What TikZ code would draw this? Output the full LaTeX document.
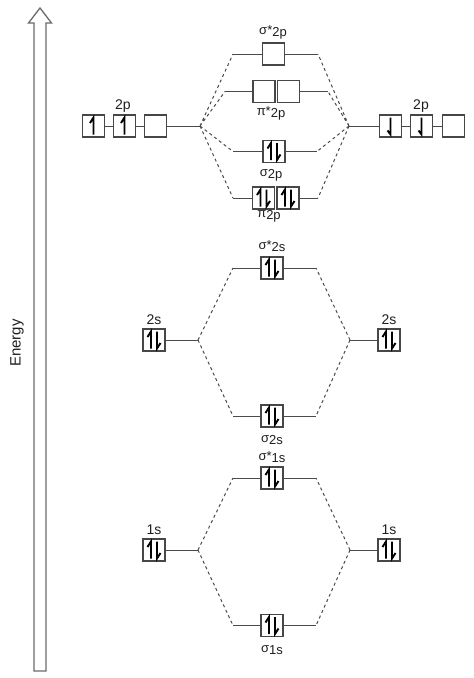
\documentclass[tikz,border=0pt]{standalone}
\usepackage{fontspec}
\setmainfont{Liberation Sans}
\definecolor{boxc}{HTML}{474747}
\definecolor{linec}{HTML}{4a4a4a}
\definecolor{txt}{HTML}{1e1e1e}
\definecolor{arrowc}{HTML}{6a6a6a}
\newcommand\lowr[1]{\raisebox{-2pt}{#1}}
\newcommand\hup[2][0]{\draw[harp] ([xshift=#1pt]#2.center) ++(0,8.5) -- ++(0,-17) -- ++(-3.5,5.5);}
\newcommand\hdn[2][0]{\draw[harp] ([xshift=#1pt]#2.center) ++(0,-8.5) -- ++(0,17) -- ++(3.5,-5.5);}
\newcommand\hdnl[2][0]{\draw[harp] ([xshift=#1pt]#2.center) ++(0,-8.5) -- ++(0,17) -- ++(-3,-4);}
\newcommand\hpair[1]{\hup[-3]{#1}\hdn[3]{#1}}
\begin{document}
\begin{tikzpicture}[x=1pt,y=-1pt,
  orb/.style={draw=boxc, line width=1.2pt, minimum size=22pt, inner sep=0pt, fill=white},
  lvl/.style={draw=linec, line width=1pt},
  dsh/.style={draw=linec, line width=1pt, dash pattern=on 3pt off 3pt},
  harp/.style={draw=black, line width=1.9pt, line cap=butt, line join=miter},
  lab/.style={font=\fontsize{14}{14}\selectfont, text=txt, inner sep=0pt},
  mol/.style={font=\fontsize{13}{13}\selectfont, text=txt, inner sep=0pt}]
\useasboundingbox (0,0) rectangle (474,678);

% energy arrow
\draw[line width=1.3pt, draw=arrowc, line join=miter] (34,671) -- (46,671) -- (46,23) -- (51.5,23) -- (40,8) -- (28.5,23) -- (34,23) -- cycle;
\node[rotate=90, font=\fontsize{15}{15}\selectfont, text=txt] (energy) at (17,343) {Energy};

% ---------- 2p ----------
\node[orb] (a1) at (93.5,126) {};
\node[orb] (a2) at (124.5,126) {};
\node[orb] (a3) at (155.5,126) {};
\coordinate (L2p) at (200,126);
\draw[lvl] (a1) -- (a2) (a2) -- (a3) (a3) -- (L2p);
\node[lab] (la2p) at (123,106) {2p};

\node[orb] (b1) at (390.5,126) {};
\node[orb] (b2) at (421.5,126) {};
\node[orb] (b3) at (453.5,126) {};
\coordinate (R2p) at (349,126);
\draw[lvl] (R2p) -- (b1) (b1) -- (b2) (b2) -- (b3);
\node[lab] (lb2p) at (421,106) {2p};

% sigma* 2p
\node[orb] (ss2p) at (273.5,54) {};
\coordinate (ss2pL) at (233,54);
\coordinate (ss2pR) at (318,54);
\draw[lvl] (ss2pL) -- (ss2p) (ss2p) -- (ss2pR);
\node[mol] (lss2p) at (273,32) {σ*\lowr{2p}};

% pi* 2p
\node[orb] (ps2pa) at (264,91.5) {};
\node[orb] (ps2pb) at (288.5,91.5) {};
\coordinate (ps2pL) at (225,91.5);
\coordinate (ps2pR) at (328,91.5);
\draw[lvl] (ps2pL) -- (ps2pa) (ps2pb) -- (ps2pR);
\node[mol] (lps2p) at (271,113) {π*\lowr{2p}};

% sigma 2p
\node[orb] (s2p) at (274,151.5) {};
\coordinate (s2pL) at (233,151.5);
\coordinate (s2pR) at (317,151.5);
\draw[lvl] (s2pL) -- (s2p) (s2p) -- (s2pR);
\node[mol] (ls2p) at (271,175) {σ\lowr{2p}};

% pi 2p
\node[orb] (p2pa) at (263.5,198) {};
\node[orb] (p2pb) at (288,198) {};
\coordinate (p2pL) at (233,198);
\coordinate (p2pR) at (318,198);
\draw[lvl] (p2pL) -- (p2pa) (p2pb) -- (p2pR);
\node[mol] (lp2p) at (269,216) {π\lowr{2p}};

\draw[dsh] (L2p) -- (ss2pL) (L2p) -- (ps2pL) (L2p) -- (s2pL) (L2p) -- (p2pL);
\draw[dsh] (R2p) -- (ss2pR) (R2p) -- (ps2pR) (R2p) -- (s2pR) (R2p) -- (p2pR);

% ---------- 2s ----------
\node[orb] (a2s) at (154,340) {};
\coordinate (L2s) at (198,340);
\draw[lvl] (a2s) -- (L2s);
\node[lab] (la2s) at (154,320) {2s};
\node[orb] (b2s) at (389,340) {};
\coordinate (R2s) at (350,340);
\draw[lvl] (R2s) -- (b2s);
\node[lab] (lb2s) at (389,320) {2s};

\node[orb] (ss2s) at (272,268) {};
\coordinate (ss2sL) at (233,268);
\coordinate (ss2sR) at (316,268);
\draw[lvl] (ss2sL) -- (ss2s) (ss2s) -- (ss2sR);
\node[mol] (lss2s) at (272,246) {σ*\lowr{2s}};

\node[orb] (s2s) at (272,416) {};
\coordinate (s2sL) at (233,416);
\coordinate (s2sR) at (316,416);
\draw[lvl] (s2sL) -- (s2s) (s2s) -- (s2sR);
\node[mol] (ls2s) at (272,440) {σ\lowr{2s}};

\draw[dsh] (L2s) -- (ss2sL) (L2s) -- (s2sL) (R2s) -- (ss2sR) (R2s) -- (s2sR);

% ---------- 1s ----------
\node[orb] (a1s) at (154,550) {};
\coordinate (L1s) at (198,550);
\draw[lvl] (a1s) -- (L1s);
\node[lab] (la1s) at (154,530) {1s};
\node[orb] (b1s) at (389,550) {};
\coordinate (R1s) at (350,550);
\draw[lvl] (R1s) -- (b1s);
\node[lab] (lb1s) at (389,530) {1s};

\node[orb] (ss1s) at (272,478) {};
\coordinate (ss1sL) at (233,478);
\coordinate (ss1sR) at (316,478);
\draw[lvl] (ss1sL) -- (ss1s) (ss1s) -- (ss1sR);
\node[mol] (lss1s) at (272,457) {σ*\lowr{1s}};

\node[orb] (s1s) at (272,625.5) {};
\coordinate (s1sL) at (233,625.5);
\coordinate (s1sR) at (316,625.5);
\draw[lvl] (s1sL) -- (s1s) (s1s) -- (s1sR);
\node[mol] (ls1s) at (272,650) {σ\lowr{1s}};

\draw[dsh] (L1s) -- (ss1sL) (L1s) -- (s1sL) (R1s) -- (ss1sR) (R1s) -- (s1sR);

% ---------- electrons ----------
\hup{a1} \hup{a2}
\hdnl{b1} \hdnl{b2}
\hpair{s2p} \hpair{p2pa} \hpair{p2pb}
\hpair{a2s} \hpair{b2s} \hpair{ss2s} \hpair{s2s}
\hpair{a1s} \hpair{b1s} \hpair{ss1s} \hpair{s1s}
\end{tikzpicture}
\end{document}
